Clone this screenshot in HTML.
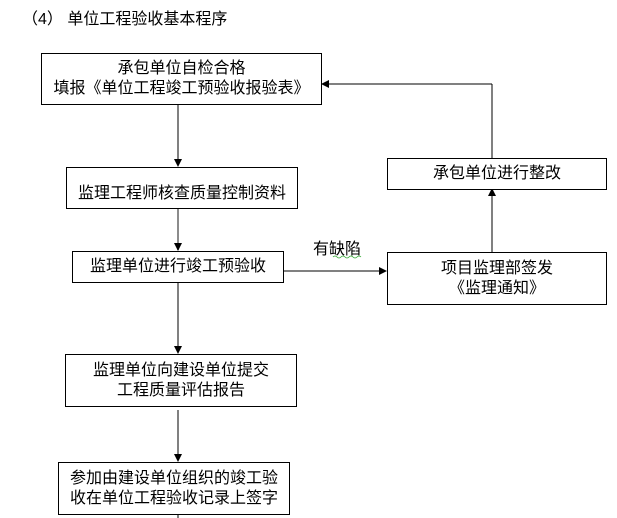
<!DOCTYPE html>
<html><head><meta charset="utf-8"><style>
body{margin:0;width:617px;height:518px;background:#fff;position:relative;overflow:hidden;font-family:"Liberation Serif","Noto Serif CJK SC","Noto Sans CJK SC",serif;color:#000}
.b{position:absolute;border:1px solid #000;box-sizing:border-box;display:flex;align-items:center;justify-content:center;text-align:center;font-size:16px;line-height:20px;background:#fff;font-family:"Liberation Sans","Noto Sans CJK SC",sans-serif;white-space:nowrap}
.t{position:absolute;font-size:16px;font-family:"Liberation Sans","Noto Sans CJK SC",sans-serif;white-space:nowrap}
svg{position:absolute;left:0;top:0}
</style></head><body>
<div class="t" style="left:22px;top:5px">（4）&nbsp;单位工程验收基本程序</div>
<svg width="617" height="518">
<defs><marker id="a" markerWidth="8" markerHeight="8" refX="7" refY="4" orient="auto" markerUnits="userSpaceOnUse"><path d="M0,0 L8,4 L0,8z" fill="#000"/></marker></defs>
<g stroke="#000" stroke-width="1" fill="none">
<line x1="178" y1="105" x2="178" y2="166" marker-end="url(#a)"/>
<line x1="178" y1="208" x2="178" y2="250" stroke="#666" stroke-width="1.5" marker-end="url(#a)"/>
<line x1="178" y1="282" x2="178" y2="353" marker-end="url(#a)"/>
<line x1="178" y1="410" x2="178" y2="461" marker-end="url(#a)"/>
<line x1="178" y1="514" x2="178" y2="518"/>
<line x1="283" y1="271" x2="386" y2="271" marker-end="url(#a)"/>
<line x1="492" y1="252" x2="492" y2="189" marker-end="url(#a)"/>
<line x1="492" y1="158" x2="492" y2="84"/>
<line x1="492" y1="84" x2="322" y2="84" marker-end="url(#a)"/>
</g>
<path d="M333,257 q2,-2 4,0 t4,0 t4,0 t4,0 t4,0 t4,0 t4,0" stroke="#3a3" stroke-width="0.8" fill="none"/>
</svg>
<div class="b" style="left:41px;top:53px;width:281px;height:52px">承包单位自检合格<br>填报《单位工程竣工预验收报验表》</div>
<div class="b" style="left:66px;top:167px;width:232px;height:42px;padding-top:12px">监理工程师核查质量控制资料</div>
<div class="b" style="left:72px;top:251px;width:212px;height:32px">监理单位进行竣工预验收</div>
<div class="b" style="left:387px;top:158px;width:220px;height:32px">承包单位进行整改</div>
<div class="b" style="left:387px;top:252px;width:220px;height:53px">项目监理部签发<br>《监理通知》</div>
<div class="b" style="left:65px;top:354px;width:232px;height:53px">监理单位向建设单位提交<br>工程质量评估报告</div>
<div class="b" style="left:58px;top:462px;width:232px;height:53px">参加由建设单位组织的竣工验<br>收在单位工程验收记录上签字</div>
<div class="t" style="left:313px;top:235px">有缺陷</div>
</body></html>
